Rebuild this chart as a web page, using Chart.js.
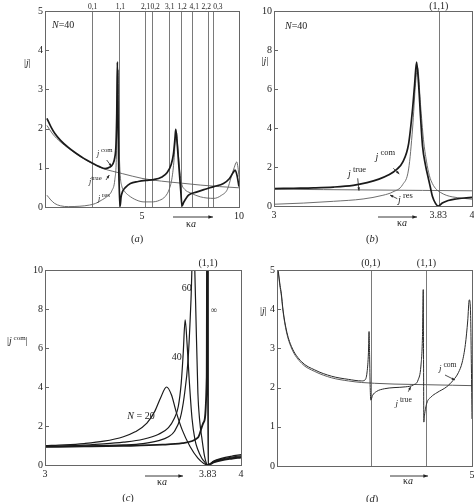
<!DOCTYPE html>
<html>
<head>
<meta charset="utf-8">
<script src="https://cdn.jsdelivr.net/npm/chart.js@4.4.1/dist/chart.umd.min.js"></script>
<style>
  html, body { margin: 0; padding: 0; background: #fff; }
  #wrap { position: relative; width: 474px; height: 502px; overflow: hidden; }
  canvas { position: absolute; }
</style>
</head>
<body>
<div id="wrap">
  <canvas id="ca" width="245" height="251" style="left:0px;top:0px;width:245px;height:251px"></canvas>
  <canvas id="cb" width="237" height="251" style="left:237px;top:0px;width:237px;height:251px"></canvas>
  <canvas id="cc" width="245" height="251" style="left:0px;top:251px;width:245px;height:251px"></canvas>
  <canvas id="cd" width="237" height="251" style="left:237px;top:251px;width:237px;height:251px"></canvas>
</div>
<script>
'use strict';

// ---- (a) N=40, ka 0..10
let aModes = [2.405, 3.832, 5.136, 5.520, 6.380, 7.016, 7.588, 8.417, 8.654];
let aModeLabels = ['0,1', '1,1', '2,1', '0,2', '3,1', '1,2', '4,1', '2,2', '0,3'];
let aXTicks = [5, 10];
let aComX = [0.1, 0.3, 0.5, 0.8, 1.2, 1.6, 2.0, 2.4, 2.8, 3.1, 3.35, 3.5, 3.6, 3.66, 3.7, 3.73, 3.76, 3.8, 3.84, 3.87, 3.92, 4.0, 4.15, 4.4, 4.8, 5.2, 5.6, 6.0, 6.3, 6.5, 6.62, 6.7, 6.74, 6.8, 6.9, 7.0, 7.06, 7.15, 7.4, 7.8, 8.3, 8.7, 9.2, 9.5, 9.7, 9.8, 9.9, 10.0];
let aComY = [2.26, 2.05, 1.88, 1.7, 1.52, 1.37, 1.24, 1.13, 1.03, 0.98, 1.02, 1.1, 1.27, 1.6, 2.4, 3.7, 2.6, 1.0, 0.3, 0.02, 0.25, 0.4, 0.5, 0.6, 0.65, 0.68, 0.7, 0.76, 0.88, 1.08, 1.35, 1.75, 1.98, 1.7, 1.05, 0.4, 0.03, 0.12, 0.3, 0.38, 0.46, 0.52, 0.6, 0.72, 0.88, 0.94, 0.8, 0.52];
let aTrueX = [0.1, 0.4, 0.8, 1.2, 1.6, 2.0, 2.5, 3.0, 3.5, 4.0, 5.0, 6.0, 7.0, 8.0, 9.0, 10.0];
let aTrueY = [2.08, 1.86, 1.66, 1.5, 1.36, 1.23, 1.1, 0.98, 0.91, 0.85, 0.73, 0.66, 0.61, 0.56, 0.52, 0.49];
let aResX = [0.1, 0.3, 0.5, 0.8, 1.2, 1.8, 2.3, 2.6, 2.9, 3.2, 3.45, 3.6, 3.68, 3.73, 3.77, 3.82, 3.88, 3.95, 4.1, 4.3, 4.7, 5.1, 5.5, 5.9, 6.2, 6.4, 6.55, 6.65, 6.72, 6.78, 6.85, 6.95, 7.04, 7.2, 7.5, 8.0, 8.7, 9.1, 9.4, 9.6, 9.75, 9.88, 9.95, 10.0];
let aResY = [0.3, 0.18, 0.09, 0.03, 0.01, 0.02, 0.05, 0.09, 0.17, 0.27, 0.42, 0.7, 1.3, 2.8, 3.5, 1.6, 0.8, 0.55, 0.4, 0.3, 0.18, 0.13, 0.13, 0.17, 0.27, 0.45, 0.75, 1.2, 1.75, 1.9, 1.5, 0.9, 0.6, 0.45, 0.36, 0.26, 0.22, 0.3, 0.45, 0.77, 1.0, 1.15, 1.0, 0.77];

// ---- (b) N=40, ka 3..4
let bModes = [3.832];
let bModeLabels = ['(1,1)'];
let bXTicks = [3, 3.83, 4];
let bComX = [3.0, 3.1, 3.2, 3.3, 3.4, 3.47, 3.53, 3.58, 3.62, 3.65, 3.68, 3.7, 3.71, 3.72, 3.73, 3.74, 3.75, 3.765, 3.78, 3.79, 3.8, 3.815, 3.83, 3.85, 3.88, 3.92, 3.96, 4.0];
let bComY = [0.89, 0.91, 0.93, 0.97, 1.06, 1.2, 1.38, 1.6, 1.88, 2.25, 3.2, 5.0, 6.2, 7.38, 6.3, 4.6, 3.1, 2.1, 1.4, 0.95, 0.5, 0.15, 0.0, 0.15, 0.28, 0.36, 0.41, 0.44];
let bTrueX = [3.0, 3.25, 3.5, 3.75, 4.0];
let bTrueY = [0.86, 0.84, 0.82, 0.8, 0.78];
let bResX = [3.0, 3.15, 3.3, 3.45, 3.55, 3.6, 3.65, 3.68, 3.7, 3.715, 3.725, 3.74, 3.755, 3.77, 3.785, 3.8, 3.82, 3.84, 3.87, 3.9, 3.95, 4.0];
let bResY = [0.09, 0.15, 0.24, 0.36, 0.55, 0.72, 1.1, 1.9, 4.0, 6.3, 7.1, 5.2, 3.4, 2.3, 1.55, 1.15, 0.85, 0.7, 0.55, 0.47, 0.4, 0.35];

// ---- (c) |j com| for N = 20, 40, 60, infinity
let cModes = [3.832];
let cModeLabels = ['(1,1)'];
let cXTicks = [3, 3.83, 4];
let cN20X = [3.0, 3.1, 3.2, 3.3, 3.4, 3.46, 3.52, 3.56, 3.59, 3.62, 3.645, 3.67, 3.7, 3.74, 3.78, 3.81, 3.83, 3.86, 3.9, 3.95, 4.0];
let cN20Y = [0.99, 1.03, 1.1, 1.22, 1.45, 1.7, 2.15, 2.75, 3.45, 4.0, 3.6, 2.7, 1.8, 0.95, 0.35, 0.08, 0, 0.2, 0.34, 0.45, 0.53];
let cN40X = [3.0, 3.1, 3.2, 3.3, 3.4, 3.5, 3.58, 3.63, 3.66, 3.68, 3.695, 3.705, 3.715, 3.725, 3.735, 3.75, 3.765, 3.78, 3.8, 3.815, 3.83, 3.86, 3.9, 3.95, 4.0];
let cN40Y = [0.96, 0.98, 1.02, 1.08, 1.17, 1.32, 1.58, 1.92, 2.4, 3.0, 4.2, 5.7, 7.44, 6.2, 4.5, 2.4, 1.3, 0.78, 0.35, 0.15, 0, 0.17, 0.3, 0.4, 0.47];
let cN60X = [3.0, 3.2, 3.4, 3.5, 3.58, 3.63, 3.66, 3.69, 3.71, 3.73, 3.745, 3.757, 3.768, 3.78, 3.79, 3.8, 3.815, 3.83, 3.86, 3.9, 3.95, 4.0];
let cN60Y = [0.94, 0.97, 1.03, 1.1, 1.25, 1.45, 1.72, 2.4, 3.5, 5.4, 8.5, 12, 8.5, 3.7, 2.2, 1.4, 0.4, 0, 0.15, 0.27, 0.36, 0.42];
let cInfX = [3.0, 3.2, 3.4, 3.6, 3.7, 3.78, 3.81, 3.825, 3.829, 3.8315, 3.86, 3.9, 3.95, 4.0];
let cInfY = [0.93, 0.95, 0.98, 1.04, 1.12, 1.4, 2.2, 4.5, 25, 0, 0.13, 0.24, 0.32, 0.38];

// ---- (d) ka 0..5
let dModes = [2.405, 3.832];
let dModeLabels = ['(0,1)', '(1,1)'];
let dXTicks = [5];
let dComX = [0.03, 0.08, 0.11, 0.155, 0.24, 0.37, 0.63, 0.97, 1.4, 1.83, 2.17, 2.25, 2.31, 2.345, 2.36, 2.375, 2.39, 2.405, 2.45, 2.55, 2.75, 3.0, 3.3, 3.5, 3.62, 3.69, 3.73, 3.75, 3.758, 3.765, 3.78, 3.84, 3.95, 4.1, 4.35, 4.52, 4.65, 4.75, 4.83, 4.89, 4.93, 4.96, 4.985, 5.0];
let dComY = [5.0, 4.6, 4.41, 3.98, 3.47, 3.05, 2.66, 2.45, 2.29, 2.21, 2.17, 2.19, 2.4, 2.9, 3.43, 2.8, 2.0, 1.68, 1.8, 1.9, 1.97, 2.0, 2.02, 2.07, 2.2, 2.55, 3.3, 4.5, 2.6, 1.12, 1.28, 1.6, 1.76, 1.87, 2.02, 2.19, 2.38, 2.65, 3.1, 3.7, 4.24, 4.0, 2.5, 1.2];
let dTrueX = [0.03, 0.08, 0.11, 0.155, 0.24, 0.37, 0.63, 0.97, 1.4, 1.83, 2.17, 2.5, 3.0, 3.5, 4.0, 4.5, 5.0];
let dTrueY = [4.95, 4.55, 4.36, 3.94, 3.43, 3.01, 2.62, 2.41, 2.25, 2.17, 2.13, 2.11, 2.09, 2.08, 2.07, 2.06, 2.05];

const SERIF = '"Liberation Serif", "DejaVu Serif", serif';
const INK = '#1a1a1a';
const GREY = '#5e5e5e';

// labels and arrows of each panel, in page pixels
let panels = {
  ca: {
    off: [0, 0], modes: aModes, modeLabels: aModeLabels, shift: [1, 1, 1, 3, 1, 1, 2, -2, 5], modeY: 8.5, modeSize: 7.5,
    texts: [
      {x: 24, y: 66, s: 10, p: ['|', '_j', '|']},
      {x: 52, y: 27.5, s: 10, p: ['_N', '=40']},
      {x: 97, y: 156, s: 8, p: ['_j', '^ com']},
      {x: 89, y: 184, s: 8, p: ['_j', '^true']},
      {x: 98, y: 200.5, s: 8, p: ['_j', '^ res']}
    ],
    arrows: [[106.7, 160, 111.7, 166.7], [106, 180, 109.3, 175]],
    ka: [173, 213, 217, 191, 227], cap: [137, 241.5, 'a']
  },
  cb: {
    off: [237, 0], modes: bModes, modeLabels: bModeLabels, modeY: 9, modeSize: 10,
    texts: [
      {x: 261.5, y: 64, s: 10, p: ['|', '_j', '|']},
      {x: 285, y: 28.5, s: 10, p: ['_N', '=40']},
      {x: 375.5, y: 159.5, s: 10, p: ['_j', '^ com']},
      {x: 348, y: 176.5, s: 10, p: ['_j', '^ true']},
      {x: 398, y: 202.5, s: 10, p: ['_j', '^ res']}
    ],
    arrows: [[393.3, 168.3, 399.3, 174], [357.7, 178.3, 359, 190.7], [397.3, 198.7, 390, 195]],
    ka: [378, 417, 217, 402, 226], cap: [372, 241.5, 'b']
  },
  cc: {
    off: [0, 251], modes: cModes, modeLabels: cModeLabels, modeY: 266, modeSize: 10,
    texts: [
      {x: 7, y: 344, s: 10, k: 0.7, p: ['|', '_j', '^ com', '|']},
      {x: 186.7, y: 291, s: 10, c: true, p: ['60']},
      {x: 176.7, y: 359.5, s: 10, c: true, p: ['40']},
      {x: 141, y: 418.5, s: 10, c: true, p: ['_N', ' = 20']},
      {x: 214, y: 313, s: 9, c: true, p: ['∞']}
    ],
    arrows: [],
    ka: [145, 183, 476, 162, 485], cap: [128, 500.5, 'c']
  },
  cd: {
    off: [237, 251], modes: dModes, modeLabels: dModeLabels, modeY: 266, modeSize: 10,
    texts: [
      {x: 260, y: 314, s: 10, p: ['|', '_j', '|']},
      {x: 439, y: 371, s: 9, p: ['_j', '^ com']},
      {x: 395.5, y: 406, s: 9, p: ['_j', '^ true']}
    ],
    arrows: [[445, 375, 455, 380], [408.3, 391.7, 410.7, 386.7]],
    ka: [390, 428, 476, 408, 484], cap: [372, 501.5, 'd']
  }
};

function pts(xs, ys){
  return xs.map((x, i) => ({x: x, y: ys[i]}));
}

function setFont(ctx, size, italic){
  ctx.font = (italic ? 'italic ' : '') + size + 'px ' + SERIF;
}

// '_' = italic piece, '^' = superscript piece
function rich(ctx, x, y, parts, size, center, supK){
  supK = supK || 0.85;
  let items = parts.map(p => {
    let sup = false, it = false;
    if (p[0] === '^') { sup = true; p = p.slice(1); }
    if (p[0] === '_') { it = true; p = p.slice(1); }
    let s = sup ? size * supK : size;
    setFont(ctx, s, it);
    return {t: p, s: s, it: it, sup: sup, w: ctx.measureText(p).width};
  });
  let cx = x;
  if (center) cx -= items.reduce((a, b) => a + b.w, 0) / 2;
  items.forEach(it => {
    setFont(ctx, it.s, it.it);
    ctx.fillText(it.t, cx, it.sup ? y - size * 0.45 : y);
    cx += it.w;
  });
}

function arrow(ctx, x1, y1, x2, y2, head){
  ctx.beginPath();
  ctx.moveTo(x1, y1);
  ctx.lineTo(x2, y2);
  ctx.stroke();
  let ang = Math.atan2(y2 - y1, x2 - x1);
  ctx.beginPath();
  ctx.moveTo(x2, y2);
  ctx.lineTo(x2 - head * Math.cos(ang - 0.38), y2 - head * Math.sin(ang - 0.38));
  ctx.lineTo(x2 - head * Math.cos(ang + 0.38), y2 - head * Math.sin(ang + 0.38));
  ctx.closePath();
  ctx.fill();
}

let decor = {
  id: 'decor',
  beforeDatasetsDraw(chart){
    let d = panels[chart.canvas.id];
    let ctx = chart.ctx, a = chart.chartArea, xs = chart.scales.x;
    ctx.save();
    ctx.strokeStyle = '#7a7a7a';
    ctx.lineWidth = 1;
    d.modes.forEach(m => {
      let px = Math.round(xs.getPixelForValue(m)) + 0.5;
      ctx.beginPath();
      ctx.moveTo(px, a.top);
      ctx.lineTo(px, a.bottom);
      ctx.stroke();
    });
    ctx.restore();
  },
  afterDraw(chart){
    let d = panels[chart.canvas.id];
    let ctx = chart.ctx, a = chart.chartArea;
    let xs = chart.scales.x, ys = chart.scales.y;
    let ox = d.off[0], oy = d.off[1];
    ctx.save();
    ctx.strokeStyle = '#666';
    ctx.lineWidth = 1;
    ctx.strokeRect(Math.round(a.left) + 0.5, Math.round(a.top) + 0.5, Math.round(a.right - a.left), Math.round(a.bottom - a.top));
    ys.ticks.forEach(t => {
      let py = Math.round(ys.getPixelForValue(t.value)) + 0.5;
      ctx.beginPath();
      ctx.moveTo(a.left, py);
      ctx.lineTo(a.left + 4, py);
      ctx.stroke();
    });

    ctx.fillStyle = '#222';
    ctx.strokeStyle = '#222';
    ctx.textBaseline = 'alphabetic';
    d.modes.forEach((m, i) => {
      let sh = d.shift ? d.shift[i] : 0;
      rich(ctx, xs.getPixelForValue(m) + sh, d.modeY - oy, [d.modeLabels[i]], d.modeSize, true);
    });
    d.texts.forEach(t => rich(ctx, t.x - ox, t.y - oy, t.p, t.s, t.c, t.k));

    ctx.lineWidth = 0.8;
    d.arrows.forEach(r => arrow(ctx, r[0] - ox, r[1] - oy, r[2] - ox, r[3] - oy, 3.5));

    let k = d.ka;
    ctx.lineWidth = 0.9;
    arrow(ctx, k[0] - ox, k[2] - oy, k[1] - ox, k[2] - oy, 5);
    rich(ctx, k[3] - ox, k[4] - oy, ['κ', '_a'], 10, true);
    rich(ctx, d.cap[0] - ox, d.cap[1] - oy, ['(', '_' + d.cap[2], ')'], 10.5, true);
    ctx.restore();
  }
};

function line(xs, ys, color, width){
  return {
    data: pts(xs, ys),
    borderColor: color,
    borderWidth: width,
    pointRadius: 0,
    fill: false,
    cubicInterpolationMode: 'monotone'
  };
}

function build(id, datasets, ax){
  let tickFont = {family: SERIF, size: 10};
  return new Chart(document.getElementById(id), {
    type: 'line',
    data: {datasets: datasets},
    options: {
      responsive: false,
      animation: false,
      devicePixelRatio: 1,
      events: [],
      layout: {padding: {left: 0, top: ax.top, right: ax.right, bottom: 0}},
      plugins: {legend: {display: false}, tooltip: {enabled: false}},
      scales: {
        x: {
          type: 'linear', min: ax.xmin, max: ax.xmax,
          grid: {display: false, drawTicks: false},
          border: {display: false},
          ticks: {autoSkip: false, maxRotation: 0, padding: 3, color: '#222', font: tickFont, callback: v => String(v)},
          afterBuildTicks: s => { s.ticks = ax.xticks.map(v => ({value: v})); },
          afterFit: s => { s.height = ax.xh; s.paddingLeft = 0; s.paddingRight = 0; }
        },
        y: {
          type: 'linear', min: 0, max: ax.ymax,
          grid: {display: false, drawTicks: false},
          border: {display: false},
          ticks: {stepSize: ax.ystep, padding: 2, color: '#222', font: tickFont},
          afterFit: s => { s.width = ax.yw; s.paddingTop = 0; s.paddingBottom = 0; }
        }
      }
    },
    plugins: [decor]
  });
}

build('ca', [
  line(aComX, aComY, INK, 1.7),
  line(aTrueX, aTrueY, GREY, 0.9),
  line(aResX, aResY, GREY, 0.9)
], {xmin: 0, xmax: 10, xticks: aXTicks, ymax: 5, ystep: 1, top: 11, right: 6, yw: 45, xh: 44});

build('cb', [
  line(bComX, bComY, INK, 1.7),
  line(bTrueX, bTrueY, GREY, 0.9),
  line(bResX, bResY, GREY, 0.9)
], {xmin: 3, xmax: 4, xticks: bXTicks, ymax: 10, ystep: 2, top: 11, right: 2, yw: 37, xh: 45});

build('cc', [
  line(cInfX, cInfY, INK, 1.8),
  line(cN60X, cN60Y, INK, 1.2),
  line(cN40X, cN40Y, INK, 1.2),
  line(cN20X, cN20Y, INK, 1.2)
], {xmin: 3, xmax: 4, xticks: cXTicks, ymax: 10, ystep: 2, top: 19, right: 4, yw: 45, xh: 37});

build('cd', [
  line(dComX, dComY, '#2a2a2a', 1.0),
  line(dTrueX, dTrueY, GREY, 1.0)
], {xmin: 0, xmax: 5, xticks: dXTicks, ymax: 5, ystep: 1, top: 19, right: 2, yw: 40, xh: 36});
</script>
</body>
</html>
